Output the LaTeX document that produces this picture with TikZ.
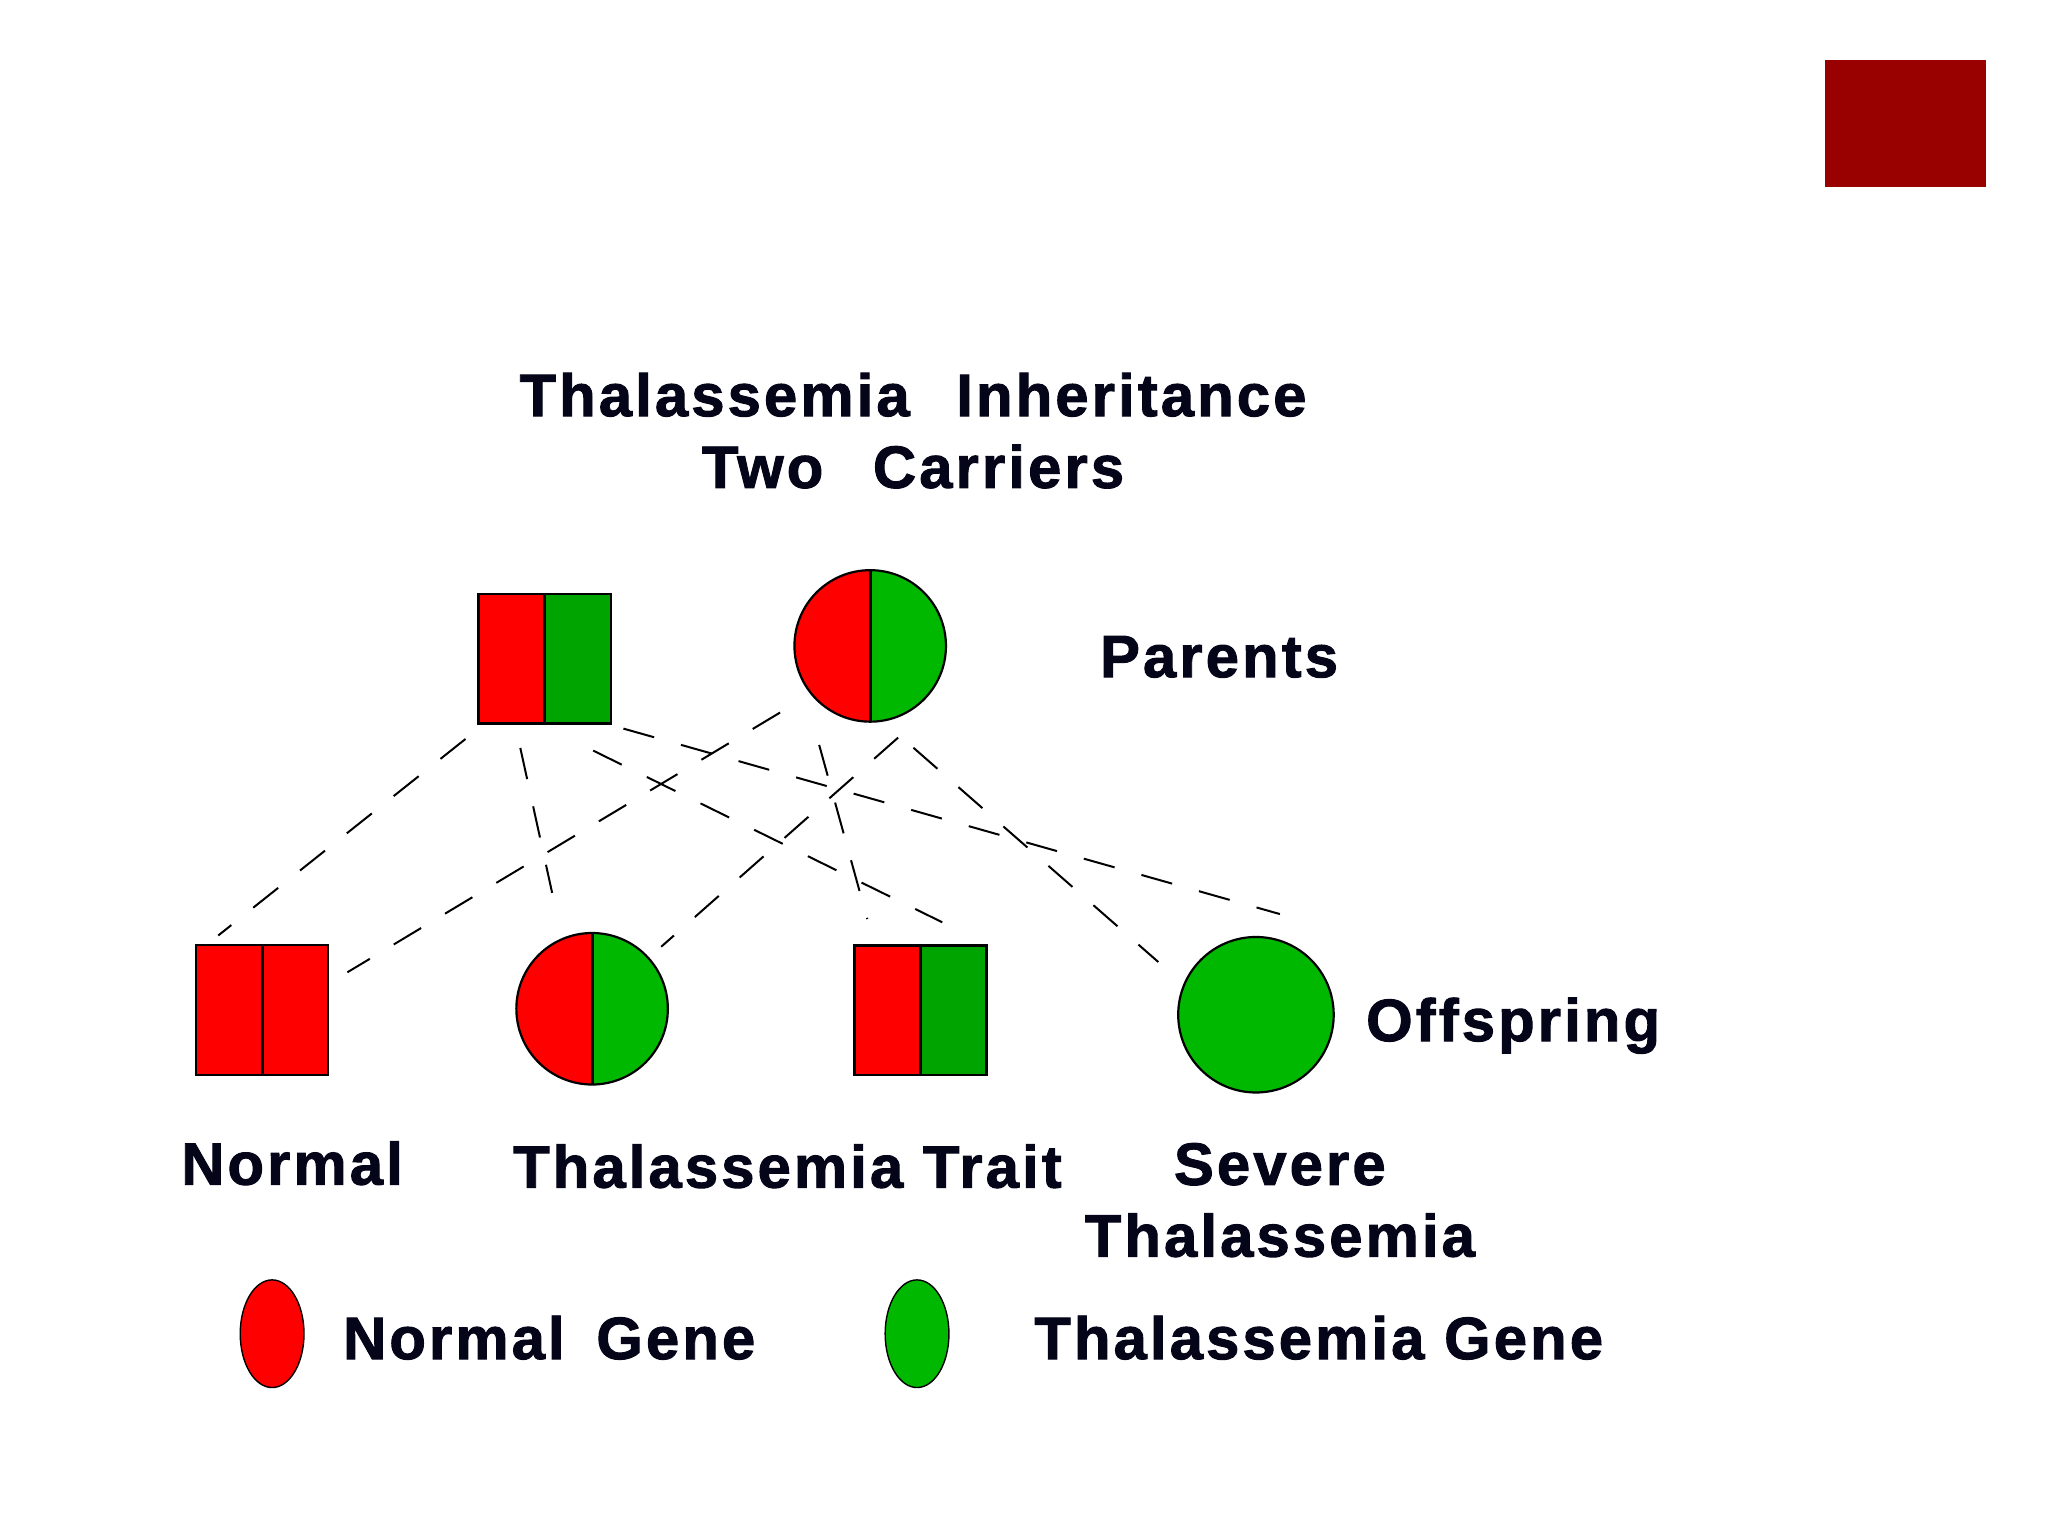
\documentclass[tikz,border=0pt]{standalone}
\usepackage{fontspec}
\newfontfamily\chunkyfont[FakeBold=1.6,LetterSpace=5.2]{Liberation Sans}
\usetikzlibrary{shapes.geometric}
\definecolor{genered}{RGB}{255,0,0}
\definecolor{genegreen}{RGB}{0,184,0}
\definecolor{darkgreen}{RGB}{0,164,0}
\definecolor{cornerred}{RGB}{153,0,0}
\definecolor{ink}{RGB}{5,5,26}
\tikzset{
    male/.style={draw=black, line width=1.4pt, rectangle, inner sep=0pt, minimum width=66.5pt, minimum height=65pt},
    female/.style={draw=black, line width=1.1pt, circle, inner sep=0pt, minimum size=76pt},
    halves/.style 2 args={path picture={
        \fill[#1] (path picture bounding box.south west) rectangle (path picture bounding box.north);
        \fill[#2] (path picture bounding box.south) rectangle (path picture bounding box.north east);
        \draw[black, line width=1.6pt] (path picture bounding box.south) -- (path picture bounding box.north);
    }},
    genelink/.style={black, line width=1pt, dash pattern=on 16pt off 14pt},
    geneoval/.style={draw=black, line width=0.7pt, ellipse, inner sep=0pt, minimum width=32pt, minimum height=54pt},
    caption/.style={text=ink, align=center, font=\fontsize{30}{36}\selectfont\chunkyfont\bfseries}
}
\begin{document}
\begin{tikzpicture}[x=0.5pt, y=-0.5pt]
    \useasboundingbox (0,0) rectangle (2054.6,1541);
    \node[fill=cornerred, inner sep=0pt, minimum width=80.5pt, minimum height=64pt] (corner) at (1911.5,124) {};

    % Title
    \node[caption] (title) at (916,432) {Thalassemia\hspace{0.45em} Inheritance\\Two\hspace{0.5em} Carriers};

    % Parents
    \node[male, halves={genered}{darkgreen}] (father) at (546.5,661) {};
    \node[female, halves={genered}{genegreen}] (mother) at (873,648) {};
    \node[caption] (parents) at (1223,659) {Parents};

    % Offspring
    \node[male, line width=1pt, halves={genered}{genered}] (normalson) at (263,1013.5) {};
    \node[female, halves={genered}{genegreen}] (carrierdaughter) at (594,1012) {};
    \node[male, halves={genered}{darkgreen}] (carrierson) at (923.5,1013.5) {};
    \node[female, minimum size=78pt, fill=genegreen] (severe) at (1260,1018) {};
    \node[caption] (offspring) at (1518,1029) {Offspring};

    % Free ends of the two lines that do not aim at a node
    \coordinate (severeabove) at (1284,917);
    \coordinate (motherside) at (901,740);

    % Lines: from/to/gap at start/gap at end
    \foreach \from/\to/\gapa/\gapb in {
        father.227.5/normalson.130/11.25/7.25,
        father.246.3/carrierdaughter.113.7/11.75/23.2,
        father.267.8/carrierson.44.6/29/25.7,
        father.315/severeabove/6.5/0,
        mother.219.8/normalson.22/17.8/10.5,
        motherside/carrierdaughter.42.5/0/8,
        mother.206.9/carrierson.125.3/34/13,
        mother.280.8/severe.157.4/19.9/16.7}
        \draw[genelink, shorten <=\gapa pt, shorten >=\gapb pt] (\from) -- (\to);

    % Captions under the offspring
    \node[caption] (normallabel) at (293,1167) {Normal};
    \node[caption] (traitlabel) at (790,1170) {Thalassemia Trait};
    \node[caption] (severelabel) at (1284,1204) {Severe\\Thalassemia};

    % Legend
    \node[geneoval, fill=genered] (redgene) at (273,1338) {};
    \node[caption] (redlabel) at (551,1342) {Normal\hspace{0.2em} Gene};
    \node[geneoval, fill=genegreen] (greengene) at (920,1338) {};
    \node[caption] (greenlabel) at (1323,1342) {Thalassemia Gene};
\end{tikzpicture}
\end{document}
